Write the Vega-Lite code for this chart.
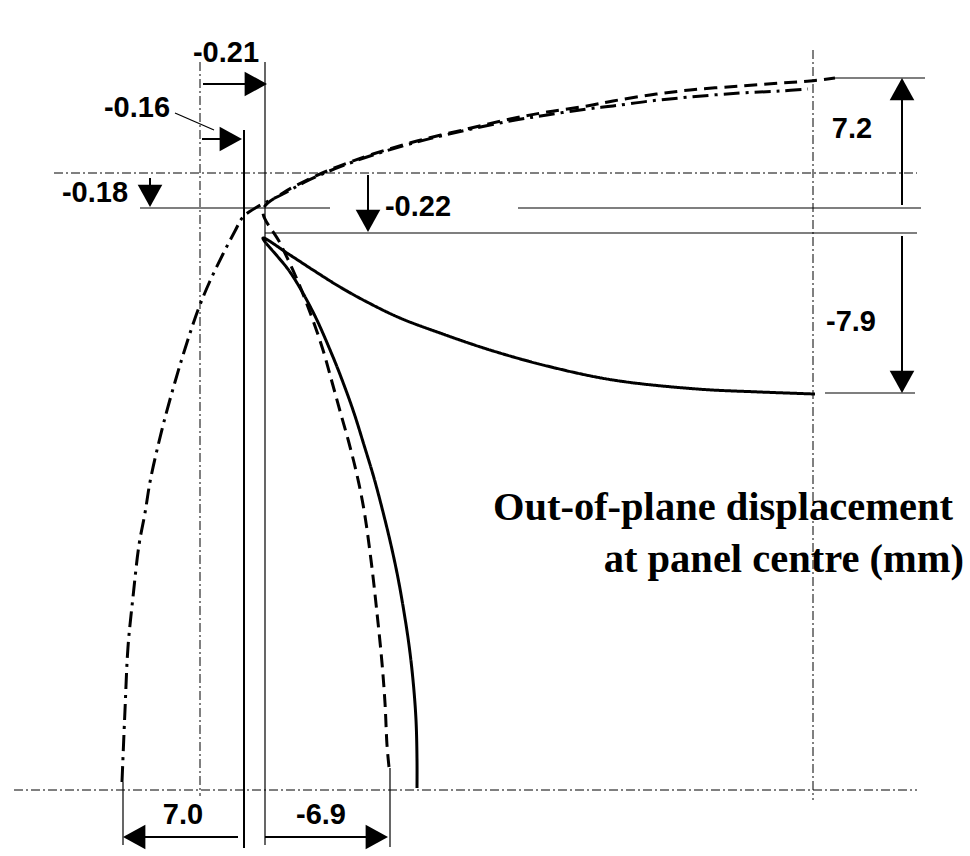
{
  "$schema": "https://vega.github.io/schema/vega-lite/v6.json",
  "width": 970,
  "height": 856,
  "autosize": {"type": "fit", "contains": "padding"},
  "padding": 0,
  "background": "white",
  "datasets": {
    "refs": [
      {"x": 54, "y": 173, "x2": 917, "y2": 173},
      {"x": 200, "y": 62, "x2": 200, "y2": 796},
      {"x": 813, "y": 50, "x2": 813, "y2": 800},
      {"x": 14, "y": 790, "x2": 917, "y2": 790}
    ],
    "thin": [
      {"x": 140, "y": 208, "x2": 330, "y2": 208},
      {"x": 518, "y": 208, "x2": 921, "y2": 208},
      {"x": 265, "y": 233, "x2": 917, "y2": 233},
      {"x": 835, "y": 78, "x2": 925, "y2": 78},
      {"x": 825, "y": 393, "x2": 915, "y2": 393},
      {"x": 265, "y": 62, "x2": 265, "y2": 845},
      {"x": 123, "y": 782, "x2": 123, "y2": 845},
      {"x": 390, "y": 768, "x2": 390, "y2": 847},
      {"x": 175, "y": 113, "x2": 214, "y2": 130}
    ],
    "thick": [
      {"x": 244, "y": 130, "x2": 244, "y2": 848}
    ],
    "shafts": [
      {"x": 203, "y": 84, "x2": 262, "y2": 84},
      {"x": 202, "y": 139, "x2": 238, "y2": 139},
      {"x": 150, "y": 178, "x2": 150, "y2": 202},
      {"x": 368, "y": 175, "x2": 368, "y2": 228},
      {"x": 902, "y": 82, "x2": 902, "y2": 205},
      {"x": 902, "y": 236, "x2": 902, "y2": 389},
      {"x": 127, "y": 837, "x2": 238, "y2": 837},
      {"x": 265, "y": 837, "x2": 384, "y2": 837}
    ],
    "heads": [
      {"x": 267, "y": 84, "dir": "right"},
      {"x": 242, "y": 139, "dir": "right"},
      {"x": 150, "y": 207, "dir": "down"},
      {"x": 368, "y": 232, "dir": "down"},
      {"x": 902, "y": 78, "dir": "up"},
      {"x": 902, "y": 393, "dir": "down"},
      {"x": 123, "y": 837, "dir": "left"},
      {"x": 388, "y": 837, "dir": "right"}
    ],
    "curves": [
      {"curve": "dashdot", "i": 1, "x": 122, "y": 782},
      {"curve": "dashdot", "i": 2, "x": 125, "y": 710},
      {"curve": "dashdot", "i": 3, "x": 128, "y": 647},
      {"curve": "dashdot", "i": 4, "x": 133, "y": 597},
      {"curve": "dashdot", "i": 5, "x": 139, "y": 545},
      {"curve": "dashdot", "i": 6, "x": 145, "y": 513},
      {"curve": "dashdot", "i": 7, "x": 150, "y": 482},
      {"curve": "dashdot", "i": 8, "x": 157, "y": 450},
      {"curve": "dashdot", "i": 9, "x": 166, "y": 414},
      {"curve": "dashdot", "i": 10, "x": 175, "y": 382},
      {"curve": "dashdot", "i": 11, "x": 184, "y": 352},
      {"curve": "dashdot", "i": 12, "x": 198, "y": 310},
      {"curve": "dashdot", "i": 13, "x": 210, "y": 281},
      {"curve": "dashdot", "i": 14, "x": 223, "y": 254},
      {"curve": "dashdot", "i": 15, "x": 235, "y": 231},
      {"curve": "dashdot", "i": 16, "x": 243, "y": 217},
      {"curve": "dashdot", "i": 17, "x": 257, "y": 207},
      {"curve": "dashdot", "i": 18, "x": 283, "y": 194},
      {"curve": "dashdot", "i": 19, "x": 305, "y": 182},
      {"curve": "dashdot", "i": 20, "x": 327, "y": 172},
      {"curve": "dashdot", "i": 21, "x": 350, "y": 163},
      {"curve": "dashdot", "i": 22, "x": 373, "y": 155},
      {"curve": "dashdot", "i": 23, "x": 417, "y": 142},
      {"curve": "dashdot", "i": 24, "x": 467, "y": 130},
      {"curve": "dashdot", "i": 25, "x": 510, "y": 121},
      {"curve": "dashdot", "i": 26, "x": 547, "y": 115},
      {"curve": "dashdot", "i": 27, "x": 587, "y": 109},
      {"curve": "dashdot", "i": 28, "x": 613, "y": 106},
      {"curve": "dashdot", "i": 29, "x": 650, "y": 101},
      {"curve": "dashdot", "i": 30, "x": 690, "y": 97},
      {"curve": "dashdot", "i": 31, "x": 740, "y": 93},
      {"curve": "dashdot", "i": 32, "x": 780, "y": 91},
      {"curve": "dashdot", "i": 33, "x": 808, "y": 89},
      {"curve": "dashed", "i": 1, "x": 389, "y": 767},
      {"curve": "dashed", "i": 2, "x": 387, "y": 745},
      {"curve": "dashed", "i": 3, "x": 385, "y": 703},
      {"curve": "dashed", "i": 4, "x": 382, "y": 663},
      {"curve": "dashed", "i": 5, "x": 377, "y": 613},
      {"curve": "dashed", "i": 6, "x": 371, "y": 560},
      {"curve": "dashed", "i": 7, "x": 364, "y": 510},
      {"curve": "dashed", "i": 8, "x": 357, "y": 475},
      {"curve": "dashed", "i": 9, "x": 349, "y": 443},
      {"curve": "dashed", "i": 10, "x": 340, "y": 411},
      {"curve": "dashed", "i": 11, "x": 332, "y": 382},
      {"curve": "dashed", "i": 12, "x": 323, "y": 350},
      {"curve": "dashed", "i": 13, "x": 311, "y": 315},
      {"curve": "dashed", "i": 14, "x": 296, "y": 277},
      {"curve": "dashed", "i": 15, "x": 280, "y": 243},
      {"curve": "dashed", "i": 16, "x": 263, "y": 210},
      {"curve": "dashed", "i": 17, "x": 283, "y": 193},
      {"curve": "dashed", "i": 18, "x": 305, "y": 181},
      {"curve": "dashed", "i": 19, "x": 327, "y": 171},
      {"curve": "dashed", "i": 20, "x": 350, "y": 162},
      {"curve": "dashed", "i": 21, "x": 373, "y": 154},
      {"curve": "dashed", "i": 22, "x": 417, "y": 141},
      {"curve": "dashed", "i": 23, "x": 467, "y": 129},
      {"curve": "dashed", "i": 24, "x": 510, "y": 119},
      {"curve": "dashed", "i": 25, "x": 547, "y": 112},
      {"curve": "dashed", "i": 26, "x": 587, "y": 106},
      {"curve": "dashed", "i": 27, "x": 613, "y": 101},
      {"curve": "dashed", "i": 28, "x": 650, "y": 95},
      {"curve": "dashed", "i": 29, "x": 690, "y": 90},
      {"curve": "dashed", "i": 30, "x": 740, "y": 86},
      {"curve": "dashed", "i": 31, "x": 780, "y": 83},
      {"curve": "dashed", "i": 32, "x": 810, "y": 81},
      {"curve": "dashed", "i": 33, "x": 835, "y": 78},
      {"curve": "solid", "i": 1, "x": 417, "y": 788},
      {"curve": "solid", "i": 2, "x": 417, "y": 760},
      {"curve": "solid", "i": 3, "x": 416, "y": 720},
      {"curve": "solid", "i": 4, "x": 413, "y": 680},
      {"curve": "solid", "i": 5, "x": 409, "y": 645},
      {"curve": "solid", "i": 6, "x": 404, "y": 612},
      {"curve": "solid", "i": 7, "x": 398, "y": 578},
      {"curve": "solid", "i": 8, "x": 391, "y": 545},
      {"curve": "solid", "i": 9, "x": 383, "y": 512},
      {"curve": "solid", "i": 10, "x": 374, "y": 478},
      {"curve": "solid", "i": 11, "x": 364, "y": 445},
      {"curve": "solid", "i": 12, "x": 354, "y": 413},
      {"curve": "solid", "i": 13, "x": 344, "y": 385},
      {"curve": "solid", "i": 14, "x": 333, "y": 357},
      {"curve": "solid", "i": 15, "x": 313, "y": 312},
      {"curve": "solid", "i": 16, "x": 290, "y": 272},
      {"curve": "solid", "i": 17, "x": 263, "y": 238},
      {"curve": "solid", "i": 18, "x": 290, "y": 255},
      {"curve": "solid", "i": 19, "x": 313, "y": 270},
      {"curve": "solid", "i": 20, "x": 340, "y": 287},
      {"curve": "solid", "i": 21, "x": 367, "y": 302},
      {"curve": "solid", "i": 22, "x": 400, "y": 318},
      {"curve": "solid", "i": 23, "x": 440, "y": 333},
      {"curve": "solid", "i": 24, "x": 490, "y": 350},
      {"curve": "solid", "i": 25, "x": 547, "y": 366},
      {"curve": "solid", "i": 26, "x": 613, "y": 380},
      {"curve": "solid", "i": 27, "x": 697, "y": 389},
      {"curve": "solid", "i": 28, "x": 760, "y": 392},
      {"curve": "solid", "i": 29, "x": 815, "y": 394}
    ],
    "labels": [
      {"label": "-0.21", "x": 226, "y": 53},
      {"label": "-0.16", "x": 137, "y": 108},
      {"label": "-0.18", "x": 95, "y": 193},
      {"label": "-0.22", "x": 418, "y": 207},
      {"label": "7.2", "x": 852, "y": 129},
      {"label": "-7.9", "x": 851, "y": 322},
      {"label": "7.0", "x": 183, "y": 815},
      {"label": "-6.9", "x": 321, "y": 815}
    ],
    "caption": [
      {"label": "Out-of-plane displacement", "x": 953, "y": 520},
      {"label": "at panel centre (mm)", "x": 964, "y": 572}
    ]
  },
  "encoding": {
    "x": {"field": "x", "type": "quantitative", "scale": {"domain": [0, 970], "nice": false, "zero": false}, "axis": null},
    "y": {"field": "y", "type": "quantitative", "scale": {"domain": [0, 856], "nice": false, "zero": false, "reverse": true}, "axis": null}
  },
  "layer": [
    {
      "data": {"name": "refs"},
      "mark": {"type": "rule", "color": "black", "strokeWidth": 1, "strokeDash": [9, 3, 2, 3]},
      "encoding": {"x2": {"field": "x2"}, "y2": {"field": "y2"}}
    },
    {
      "data": {"name": "thin"},
      "mark": {"type": "rule", "color": "black", "strokeWidth": 1.2},
      "encoding": {"x2": {"field": "x2"}, "y2": {"field": "y2"}}
    },
    {
      "data": {"name": "thick"},
      "mark": {"type": "rule", "color": "black", "strokeWidth": 2},
      "encoding": {"x2": {"field": "x2"}, "y2": {"field": "y2"}}
    },
    {
      "data": {"name": "shafts"},
      "mark": {"type": "rule", "color": "black", "strokeWidth": 2},
      "encoding": {"x2": {"field": "x2"}, "y2": {"field": "y2"}}
    },
    {
      "data": {"name": "heads"},
      "mark": {"type": "point", "filled": true, "color": "black", "opacity": 1, "size": 2000},
      "encoding": {
        "shape": {
          "field": "dir",
          "type": "nominal",
          "scale": {
            "domain": ["right", "left", "down", "up"],
            "range": [
              "M0,0L-1,-0.55L-1,0.55Z",
              "M0,0L1,-0.55L1,0.55Z",
              "M0,0L-0.55,-1L0.55,-1Z",
              "M0,0L-0.55,1L0.55,1Z"
            ]
          },
          "legend": null
        }
      }
    },
    {
      "data": {"name": "curves"},
      "mark": {"type": "line", "color": "black", "strokeWidth": 3, "interpolate": "catmull-rom"},
      "encoding": {
        "order": {"field": "i", "type": "quantitative"},
        "strokeDash": {
          "field": "curve",
          "type": "nominal",
          "scale": {"domain": ["dashdot", "dashed", "solid"], "range": [[16, 6, 3, 6], [13, 7], [1, 0]]},
          "legend": null
        }
      }
    },
    {
      "data": {"name": "labels"},
      "mark": {"type": "text", "font": "Liberation Sans", "fontWeight": "bold", "fontSize": 29, "align": "center", "baseline": "middle", "color": "black"},
      "encoding": {"text": {"field": "label"}}
    },
    {
      "data": {"name": "caption"},
      "mark": {"type": "text", "font": "Liberation Serif", "fontWeight": "bold", "fontSize": 40.5, "align": "right", "baseline": "alphabetic", "color": "black"},
      "encoding": {"text": {"field": "label"}}
    }
  ],
  "config": {"view": {"stroke": null}}
}
